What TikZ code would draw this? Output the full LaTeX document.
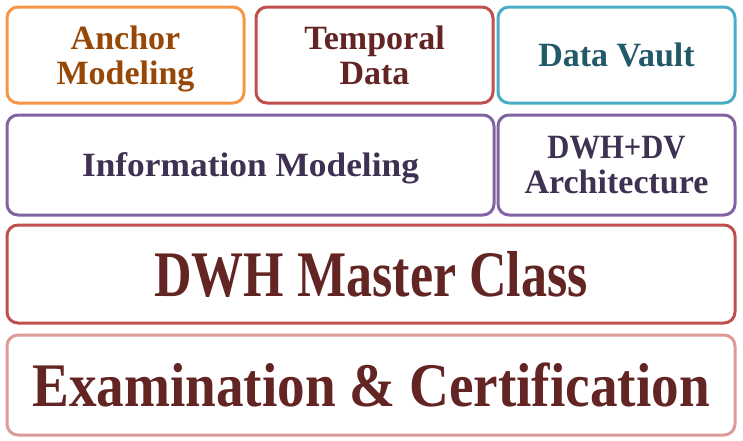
\documentclass[tikz,border=0pt]{standalone}
\usepackage{fontspec}
\setmainfont{Liberation Serif}
\usepackage{graphicx}
\definecolor{orangeB}{HTML}{F79646}
\definecolor{orangeT}{HTML}{974706}
\definecolor{redB}{HTML}{C0504D}
\definecolor{redT}{HTML}{632523}
\definecolor{cyanB}{HTML}{4BACC6}
\definecolor{cyanT}{HTML}{215968}
\definecolor{purpB}{HTML}{8064A2}
\definecolor{purpT}{HTML}{3F3151}
\definecolor{pinkB}{HTML}{DC9A98}
\newcommand{\nodesc}[1]{\raisebox{0pt}[\height][0pt]{#1}}
\begin{document}
\begin{tikzpicture}[x=1pt,y=-1pt,
  box/.style={draw, line width=3pt, rounded corners=11pt, fill=white, inner sep=0pt, align=center},
  small/.style={font=\fontsize{34}{35}\selectfont\bfseries},
  big/.style={font=\fontsize{65}{70}\selectfont\bfseries}]
\useasboundingbox (0,0) rectangle (743,440);
\node[box, small, draw=orangeB, text=orangeT, minimum width=237pt, minimum height=96pt] (anchor) at (125.5,55) {Anchor\\\nodesc{Modeling}};
\node[box, small, draw=redB, text=redT, minimum width=237pt, minimum height=96pt] (temporal) at (374.5,55) {Temporal\\Data};
\node[box, small, draw=cyanB, text=cyanT, minimum width=237pt, minimum height=96pt] (vault) at (616.5,55) {Data Vault};
\node[box, small, draw=purpB, text=purpT, minimum width=487pt, minimum height=100pt] (info) at (250.5,165) {\nodesc{\scalebox{1.04}[1]{Information Modeling}}};
\node[box, small, draw=purpB, text=purpT, minimum width=237pt, minimum height=100pt] (arch) at (616.5,165) {\scalebox{0.9}[1]{DWH+DV}\\Architecture};
\node[box, big, draw=redB, text=redT, minimum width=728pt, minimum height=98pt] (master) at (371,274) {\scalebox{0.8}[1]{DWH Master Class}};
\node[box, font=\fontsize{62}{66}\selectfont\bfseries, draw=pinkB, text=redT, minimum width=728pt, minimum height=100pt] (exam) at (371,385) {\scalebox{0.89}[1]{Examination \& Certification}};
\end{tikzpicture}
\end{document}
